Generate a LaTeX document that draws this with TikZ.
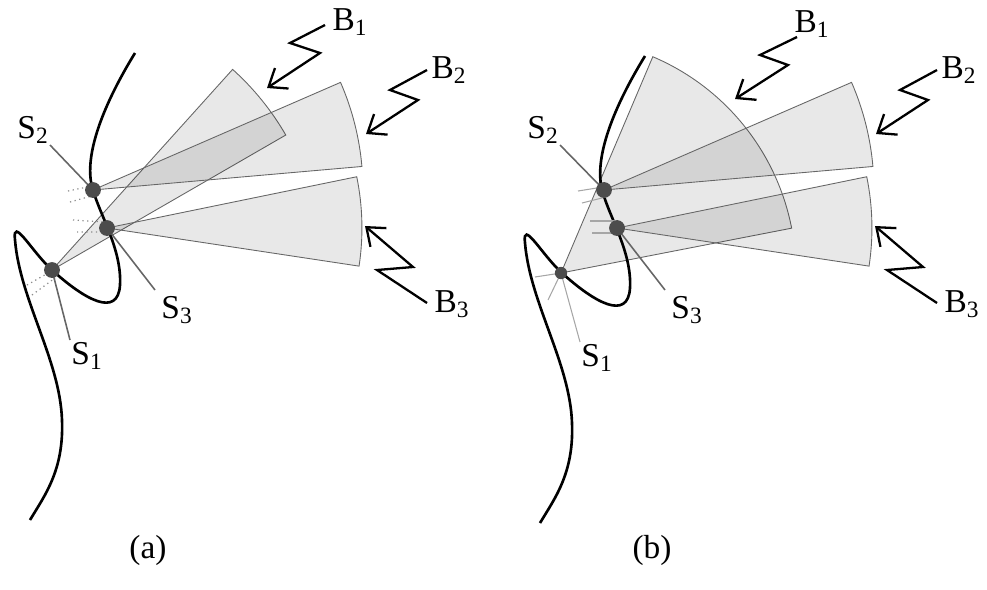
\documentclass[tikz,border=0pt]{standalone}
\usepackage{fontspec}
\setmainfont{Liberation Serif}
\usetikzlibrary{arrows.meta}
\newcommand\beamsector[4]{\path[beam] (#1) -- ++(#2:#4) arc[start angle=#2,end angle=#3,radius=#4] -- cycle;}
\begin{document}
\begin{tikzpicture}[x=0.02cm,y=0.02cm,
  beam/.style={draw=black!60,line width=0.5pt,fill=black,fill opacity=0.09},
  curve/.style={line width=1.5pt},
  normal/.style={draw=black!60,line width=0.9pt},
  faint/.style={draw=black!35,line width=0.6pt},
  dots/.style={draw=black!45,dotted,line width=0.7pt},
  sensor/.style={circle,fill=black!70,inner sep=0pt,minimum size=9pt},
  zig/.style={line width=1.3pt,-{Straight Barb[length=9pt,width=14pt]}},
  lab/.style={font=\fontsize{19}{22}\selectfont,inner sep=0pt}]
\useasboundingbox (0,0) rectangle (987,-589);
% ---------- (a) ----------
\coordinate (s1) at (52,-270);
\coordinate (s2) at (93,-190);
\coordinate (s3) at (107,-228);
\beamsector{s1}{30}{48}{5.4cm}
\beamsector{s2}{5}{23.5}{5.4cm}
\beamsector{s3}{-8.6}{11.6}{5.1cm}
\draw[curve] (135,-53) .. controls (100,-110) and (83,-160) .. (93,-190)
  .. controls (100,-215) and (122,-250) .. (120,-285)
  .. controls (118,-318) and (85,-300) .. (52,-270)
  .. controls (32,-252) and (12,-215) .. (15,-240)
  .. controls (20,-300) and (60,-360) .. (62,-420)
  .. controls (64,-470) and (45,-495) .. (30,-520);
\draw[dots] (68,-191) -- (92,-186) (70,-202) -- (95,-195);
\draw[dots] (73,-220) -- (104,-222) (77,-232) -- (108,-232);
\draw[dots] (27,-285) -- (50,-272) (32,-295) -- (55,-278);
\coordinate (n2) at (50,-145); \coordinate (n3) at (155,-290); \coordinate (n1) at (70,-340);
\draw[normal] (n2) -- (s2); \draw[normal] (s3) -- (n3); \draw[normal] (s1) -- (n1);
\node[sensor] at (s1) {}; \node[sensor] at (s2) {}; \node[sensor] at (s3) {};
\node[lab] (l2) at (33,-130) {S\textsubscript{2}};
\node[lab] (l3) at (177,-310) {S\textsubscript{3}};
\node[lab] (l1) at (87,-356) {S\textsubscript{1}};
\node[lab] (b1) at (350,-22) {B\textsubscript{1}};
\node[lab] (b2) at (449,-70) {B\textsubscript{2}};
\node[lab] (b3) at (452,-304) {B\textsubscript{3}};
\draw[zig] (325,-25) -- (290,-43) -- (320,-53) -- (267,-88);
\draw[zig] (427,-70) -- (390,-90) -- (418,-100) -- (366,-134);
\draw[zig] (427,-303) -- (377,-270) -- (413,-267) -- (365,-226);
\node[lab] (ca) at (148,-550) {(a)};
% ---------- (b) ----------
\coordinate (t1) at (561,-273);
\coordinate (t2) at (604,-190);
\coordinate (t3) at (617,-228);
\beamsector{t1}{11}{67}{4.7cm}
\beamsector{t2}{5}{23.5}{5.4cm}
\beamsector{t3}{-8.6}{11.6}{5.1cm}
\begin{scope}[xshift=510*0.02cm,yshift=-0.06cm]
\draw[curve] (135,-53) .. controls (100,-110) and (83,-160) .. (93,-190)
  .. controls (100,-215) and (122,-250) .. (120,-285)
  .. controls (118,-318) and (85,-300) .. (52,-270)
  .. controls (32,-252) and (12,-215) .. (15,-240)
  .. controls (20,-300) and (60,-360) .. (62,-420)
  .. controls (64,-470) and (45,-495) .. (30,-520);
\end{scope}
\draw[faint] (578,-191) -- (603,-187) (582,-203) -- (606,-197);
\draw[faint] (590,-221) -- (615,-221) (592,-233) -- (618,-233);
\draw[faint] (535,-277) -- (t1) (548,-300) -- (t1);
\coordinate (m2) at (560,-145); \coordinate (m3) at (665,-290); \coordinate (m1) at (580,-342);
\draw[normal] (m2) -- (t2); \draw[normal] (t3) -- (m3); \draw[faint] (t1) -- (m1);
\node[sensor,minimum size=7pt] at (t1) {}; \node[sensor] at (t2) {}; \node[sensor] at (t3) {};
\node[lab] (k2) at (543,-130) {S\textsubscript{2}};
\node[lab] (k3) at (687,-310) {S\textsubscript{3}};
\node[lab] (k1) at (597,-358) {S\textsubscript{1}};
\node[lab] (c1) at (812,-24) {B\textsubscript{1}};
\node[lab] (c2) at (959,-70) {B\textsubscript{2}};
\node[lab] (c3) at (962,-304) {B\textsubscript{3}};
\draw[zig] (797,-37) -- (760,-55) -- (788,-65) -- (735,-99);
\draw[zig] (937,-70) -- (900,-90) -- (928,-100) -- (876,-134);
\draw[zig] (937,-303) -- (887,-270) -- (923,-267) -- (875,-226);
\node[lab] (cb) at (652,-550) {(b)};
\end{tikzpicture}
\end{document}
